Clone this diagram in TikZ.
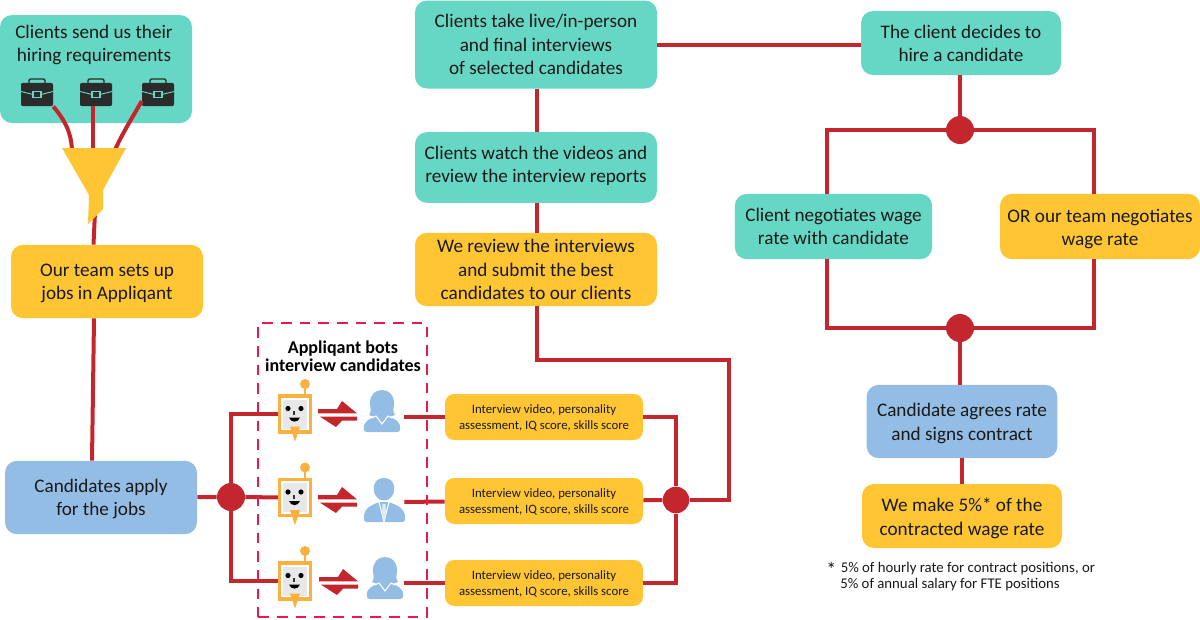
\documentclass[tikz,border=0pt]{standalone}
\usepackage{fontspec}
\setmainfont{Carlito}
\usetikzlibrary{positioning}
\definecolor{tealbox}{HTML}{66D7C4}
\definecolor{yellowbox}{HTML}{FFC533}
\definecolor{bluebox}{HTML}{94BDE5}
\definecolor{wire}{HTML}{C4262E}
\definecolor{dashred}{HTML}{E8194F}
\definecolor{botorange}{HTML}{FBB040}
\definecolor{casedark}{HTML}{2B2B2B}
\tikzset{
  box/.style={rounded corners=9pt,minimum width=#1,align=center,inner sep=0pt,
    font=\fontsize{14.4}{17.4}\selectfont,text=black!90},
  teal/.style={box=#1,fill=tealbox},
  yellow/.style={box=#1,fill=yellowbox},
  blue/.style={box=#1,fill=bluebox},
  textdown/.style={execute at begin node={\rule{0pt}{#1}}},
  textup/.style={execute at end node={\rule[-#1]{0pt}{0pt}}},
  score/.style={yellow=148.5pt,minimum height=34.5pt,rounded corners=7pt,
    font=\fontsize{9.6}{12.2}\selectfont,textdown=19.9pt},
  wireline/.style={draw=wire,line width=3pt},
  joint/.style={circle,fill=wire,inner sep=0pt,minimum size=#1},
  botbox/.style={draw=botorange,line width=2.6pt,fill=white,inner sep=0pt,
    minimum width=23pt,minimum height=27pt},
  handbox/.style={inner sep=0pt,minimum width=33pt,minimum height=30pt},
  casebox/.style={fill=casedark,rounded corners=1.5pt,inner sep=0pt,
    minimum width=24pt,minimum height=17.5pt},
  pics/botface/.style={code={
    \fill[black!9] (-12,-14.5) rectangle (12,14.5);
    \fill[black] (-7,-5.5) circle (2.6) (6,-5.5) circle (2.6);
    \fill[black!80] (-1.6,-3) rectangle (-.2,1);
    \fill[black] (-6,3.5) .. controls (-4,9) and (3,9) .. (5,3.5) -- cycle;
    \fill[botorange] (-5,12.5) -- (5,12.5) -- (0,27.5) -- cycle;
    \draw[botorange,line width=1.6pt] (10,-20) -- (10,-28);
    \fill[botorange] (10,-30) circle (5);
  }},
  pics/swap/.style={code={
    \fill[wire] (-20,-5) -- (-1,-5) -- (4,-13) -- (19,-.7) -- (-20,-.7) -- cycle;
    \fill[wire] (19,2.7) -- (-18,2.7) -- (-2,13) -- (4,6.7) -- (19,6.7) -- cycle;
  }},
  pics/woman/.style={code={
    \fill[bluebox,rounded corners=2pt] (-18,15) .. controls (-19,4) and (-12,2) .. (-6,-1) -- (6,-1)
      .. controls (12,2) and (19,4) .. (18,15) -- cycle;
    \fill[bluebox] (-13,-2) .. controls (-10,-6) and (-12,-9) .. (-12,-14)
      .. controls (-12,-22) and (-7,-27) .. (0,-27)
      .. controls (7,-27) and (12,-22) .. (12,-14)
      .. controls (12,-9) and (10,-6) .. (13,-2) .. controls (7,1) and (-7,1) .. (-13,-2) -- cycle;
    \draw[white,line width=.8pt] (-10,1) -- (-6,-1) -- (0,7) -- (6,-1) -- (10,1);
  }},
  pics/man/.style={code={
    \fill[bluebox,rounded corners=2pt] (-18,20) .. controls (-19,6) and (-10,3) .. (-3,0) -- (7,0)
      .. controls (14,3) and (24,6) .. (23,20) -- cycle;
    \fill[bluebox] (2,-24) .. controls (-11,-24) and (-9,-9) .. (-6,-6)
      .. controls (-3,0) and (7,0) .. (10,-6) .. controls (13,-9) and (15,-24) .. (2,-24) -- cycle;
    \draw[white,line width=.8pt] (-3,0) -- (2,20) -- (7,0);
    \fill[white!70!bluebox] (.5,2) -- (3.5,2) -- (4,13) -- (2,18) -- (0,13) -- cycle;
  }},
  pics/caseface/.style={code={
    \draw[casedark,line width=1.1pt,rounded corners=1pt] (-8,-11) -- (-8,-15.5) -- (8,-15.5) -- (8,-11);
    \draw[tealbox,line width=.7pt] (-16,-3) -- (-4,0);
    \draw[tealbox,line width=.7pt] (4,0) -- (16,-3);
    \draw[tealbox,line width=.8pt] (-4,-3) rectangle (4,3);
  }},
}
\begin{document}
\begin{tikzpicture}[x=.75pt,y=-.75pt]
  \useasboundingbox (0,0) rectangle (1200,619);

  % left column
  \node[teal=144pt,minimum height=81pt] (clients) at (96,69) {};
  \node[box=144pt] (clientstext) at (94,45) {Clients send us their\\hiring requirements};
  \node[casebox] (case1) at (37,94.5) {};
  \node[casebox] (case2) at (96,94.5) {};
  \node[casebox] (case3) at (158,94.5) {};
  \pic at (case1) {caseface};
  \pic at (case2) {caseface};
  \pic at (case3) {caseface};
  \node[yellow=144pt,minimum height=55pt,textdown=29.6pt] (setup) at (107,281.5) {Our team sets up\\jobs in Appliqant};
  \node[blue=144pt,minimum height=55pt,textdown=30pt] (apply) at (101,497.5) {Candidates apply\\for the jobs};

  % funnel
  \coordinate (fun1) at (72,150);
  \coordinate (fun2) at (93,150);
  \coordinate (fun3) at (115,150);
  \coordinate (funout) at (95,212);
  \path[wireline] (case1.south east) .. controls (63,118) and (71,130) .. (fun1);
  \path[wireline] (case2.south -| fun2) -- (fun2);
  \path[wireline] (case3.west |- 0,101) .. controls (131,120) and (122,134) .. (fun3);
  \path[wireline] (funout) -- (setup.north -| 93.5,0);
  \fill[yellowbox] (62,148) -- (126,148) -- (103,190) -- (103,209) -- (88,224) -- (89,195) -- cycle;
  \path[wireline] (setup.south -| 94,0) -- (apply.north -| 92,0);

  % bots and candidates
  \node[joint=21pt] (joinbots) at (231,497) {};
  \node[botbox] (bot1) at (295,414) {};
  \node[botbox] (bot2) at (295,497.5) {};
  \node[botbox] (bot3) at (295,581) {};
  \node[handbox] (cand1) at (382,417) {};
  \node[handbox] (cand2) at (382,502) {};
  \node[handbox] (cand3) at (382,583) {};
  \node[score] (score1) at (544,417) {Interview video, personality\\assessment, IQ score, skills score};
  \node[score] (score2) at (544,501) {Interview video, personality\\assessment, IQ score, skills score};
  \node[score] (score3) at (544,583) {Interview video, personality\\assessment, IQ score, skills score};
  \node[joint=20pt] (joinscores) at (676,500) {};
  \path[wireline] (apply) -- (joinbots);
  \path[wireline] (joinbots) |- (bot1);
  \path[wireline] (joinbots) -- (bot2);
  \path[wireline] (joinbots) |- (bot3);
  \path[wireline] (cand1) -- (score1);
  \path[wireline] (cand2) -- (score2);
  \path[wireline] (cand3) -- (score3);
  \path[wireline] (score1) -| (joinscores);
  \path[wireline] (score2) -- (joinscores);
  \path[wireline] (score3) -| (joinscores);
  \pic at (bot1) {botface};
  \pic at (bot2) {botface};
  \pic at (bot3) {botface};
  \pic at (338,414) {swap};
  \pic at (338,500) {swap};
  \pic at (339,582) {swap};
  \pic at (cand1) {woman};
  \pic at (cand2) {man};
  \pic at (385,584) {woman};
  \node[draw=dashred,line width=1.6pt,dash pattern=on 8pt off 6pt,minimum width=126.5pt,minimum height=220pt,inner sep=0pt] (botframe) at (342.5,470) {};
  \node[align=center,font=\fontsize{13.5}{13.5}\bfseries\selectfont] (botlabel) at (343,356) {Appliqant bots\\interview candidates};

  % middle column
  \node[teal=181.5pt,minimum height=66pt] (live) at (536,44.5) {Clients take live/in-person\\and final interviews\\of selected candidates};
  \node[teal=181.5pt,minimum height=53pt,textup=5.2pt] (watch) at (536,167.5) {Clients watch the videos and\\review the interview reports};
  \node[yellow=181.5pt,minimum height=55pt] (review) at (536,269.5) {We review the interviews\\and submit the best\\candidates to our clients};
  \coordinate (turn1) at (537,360);
  \coordinate (turn2) at (729,360);
  \coordinate (turn3) at (729,500);
  \path[wireline] (live.south -| turn1) -- (watch.north -| turn1);
  \path[wireline] (watch.south -| turn1) -- (review.north -| turn1);
  \path[wireline] (review.south -| turn1) -- (turn1) -- (turn2) -- (turn3) -- (joinscores);

  % right column
  \node[teal=150pt,minimum height=48pt] (hire) at (961,43) {The client decides to\\hire a candidate};
  \node[teal=148pt,minimum height=49pt] (clientwage) at (833.5,226.5) {Client negotiates wage\\rate with candidate};
  \node[yellow=150pt,minimum height=49pt,textdown=31pt] (teamwage) at (1100,226.5) {OR our team negotiates\\wage rate};
  \node[joint=21pt] (joinup) at (960,130) {};
  \node[joint=21pt] (joindown) at (960,328) {};
  \node[blue=143pt,minimum height=55pt,textdown=30.5pt] (agree) at (962,421.5) {Candidate agrees rate\\and signs contract};
  \node[yellow=150pt,minimum height=48pt,textdown=31pt] (make) at (962,516) {We make 5\%* of the\\contracted wage rate};
  \coordinate (upleft) at (827,130);
  \coordinate (upright) at (1094,130);
  \coordinate (downleft) at (827,328);
  \coordinate (downright) at (1094,328);
  \path[wireline] (live) -- (live -| hire.west);
  \path[wireline] (hire.south -| joinup) -- (joinup);
  \path[wireline] (clientwage.north -| upleft) -- (upleft) -- (upright) -- (teamwage.north -| upright);
  \path[wireline] (clientwage.south -| downleft) -- (downleft) -- (downright) -- (teamwage.south -| downright);
  \path[wireline] (joindown) -- (agree.north -| joindown);
  \path[wireline] (agree) -- (make);
  \node[anchor=north west,align=left,inner sep=0pt,font=\fontsize{11.1}{11.8}\selectfont,text=black!90] (footnote) at (826,562)
    {\raisebox{-3pt}{\fontsize{15}{15}\selectfont*}\hspace{3.4pt}5\% of hourly rate for contract positions, or\\\hspace*{10.5pt}5\% of annual salary for FTE positions};
\end{tikzpicture}
\end{document}
